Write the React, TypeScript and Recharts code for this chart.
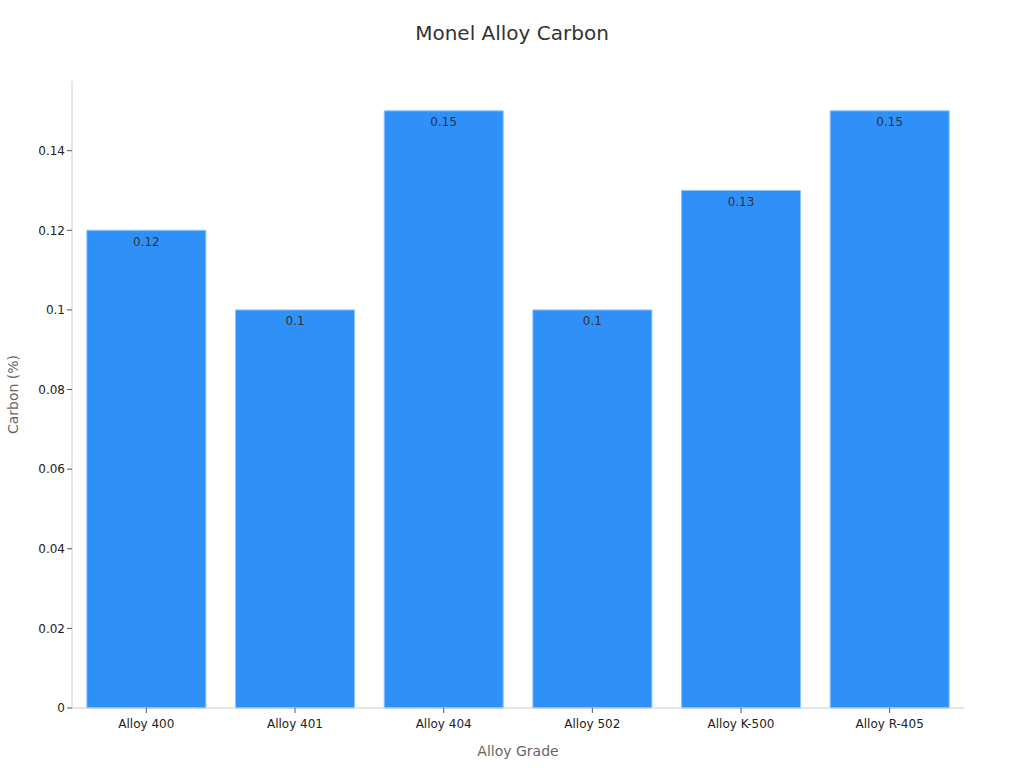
import { BarChart, Bar, XAxis, YAxis, LabelList } from "recharts"

const grades = ["Alloy 400", "Alloy 401", "Alloy 404", "Alloy 502", "Alloy K-500", "Alloy R-405"]
const carbon = [0.12, 0.1, 0.15, 0.1, 0.13, 0.15]
const yTicks = [0, 0.02, 0.04, 0.06, 0.08, 0.1, 0.12, 0.14]

const data = grades.map((g, i) => ({ grade: g, carbon: carbon[i] }))

const FONT = "'DejaVu Sans', sans-serif"

export default function App() {
  return (
    <div style={{ position: "relative", width: 1024, height: 768, background: "#fff", fontFamily: FONT }}>
      <style>{`body{margin:0}`}</style>
      <div
        style={{
          position: "absolute", top: 21, left: 0, width: 1024, textAlign: "center",
          fontSize: 20, color: "#333", fontFamily: FONT,
        }}
      >
        Monel Alloy Carbon
      </div>
      <BarChart
        width={1024}
        height={768}
        data={data}
        margin={{ top: 81, right: 60, bottom: 30, left: 12 }}
        barCategoryGap="10%"
      >
        <XAxis
          dataKey="grade"
          height={30}
          tick={{ fontSize: 12, fill: "#222", fontFamily: FONT, dy: 4 }}
          tickLine={{ stroke: "#555" }}
          axisLine={{ stroke: "#ccc" }}
          tickSize={5}
          label={{ value: "Alloy Grade", position: "insideBottom", offset: -18, fontSize: 14, fill: "#666", fontFamily: FONT }}
        />
        <YAxis
          width={60}
          domain={[0, 0.1575]}
          ticks={yTicks}
          tick={{ fontSize: 12, fill: "#222", fontFamily: FONT }}
          tickLine={{ stroke: "#555" }}
          axisLine={{ stroke: "#ccc" }}
          tickSize={5}
          label={{ value: "Carbon (%)", angle: -90, position: "insideLeft", offset: 1, fontSize: 14, fill: "#666", fontFamily: FONT, style: { textAnchor: "middle" } }}
        />
        <Bar dataKey="carbon" fill="#2f91f8" stroke="#8cc3fb" strokeWidth={1} isAnimationActive={false}>
          <LabelList dataKey="carbon" position="insideTop" offset={7} fontSize={12} fill="#333" fontFamily={FONT} />
        </Bar>
      </BarChart>
    </div>
  )
}
